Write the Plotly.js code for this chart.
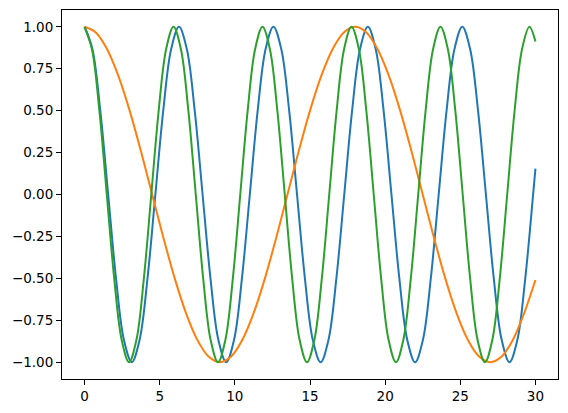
<!DOCTYPE html>
<html>
<head>
<meta charset="utf-8">
<script src="https://cdn.plot.ly/plotly-3.0.1.min.js"></script>
<style>
html, body { margin: 0; padding: 0; background: #fff; }
#chart { width: 568px; height: 413px; }
</style>
</head>
<body>
<div id="chart"></div>
<script>
// Blue series: points (peaks, troughs, crossings and between)
const blueX = [0, 0.524, 1.047, 1.571, 2.094, 2.618, 3.142, 3.665, 4.189, 4.712, 5.236, 5.760,
  6.283, 6.807, 7.330, 7.854, 8.378, 8.901, 9.425, 9.948, 10.472, 10.996, 11.519, 12.043,
  12.566, 13.090, 13.614, 14.137, 14.661, 15.184, 15.708, 16.232, 16.755, 17.279, 17.802, 18.326,
  18.850, 19.373, 19.897, 20.420, 20.944, 21.468, 21.991, 22.515, 23.038, 23.562, 24.086, 24.609,
  25.133, 25.656, 26.180, 26.704, 27.227, 27.751, 28.274, 28.798, 29.322, 29.845, 30.000];
const blueY = [1, 0.866, 0.5, 0, -0.5, -0.866, -1, -0.866, -0.5, 0, 0.5, 0.866,
  1, 0.866, 0.5, 0, -0.5, -0.866, -1, -0.866, -0.5, 0, 0.5, 0.866,
  1, 0.866, 0.5, 0, -0.5, -0.866, -1, -0.866, -0.5, 0, 0.5, 0.866,
  1, 0.866, 0.5, 0, -0.5, -0.866, -1, -0.866, -0.5, 0, 0.5, 0.866,
  1, 0.866, 0.5, 0, -0.5, -0.866, -1, -0.866, -0.5, 0, 0.154];

// Orange series
const orangeX = [0, 0.75, 1.5, 2.25, 3, 3.75, 4.5, 5.25, 6, 6.75, 7.5, 8.25, 9, 9.75, 10.5, 11.25,
  12, 12.75, 13.5, 14.25, 15, 15.75, 16.5, 17.25, 18, 18.75, 19.5, 20.25, 21, 21.75, 22.5, 23.25,
  24, 24.75, 25.5, 26.25, 27, 27.75, 28.5, 29.25, 30];
const orangeY = [1, 0.966, 0.866, 0.707, 0.5, 0.259, 0, -0.259, -0.5, -0.707, -0.866, -0.966, -1,
  -0.966, -0.866, -0.707, -0.5, -0.259, 0, 0.259, 0.5, 0.707, 0.866, 0.966, 1,
  0.966, 0.866, 0.707, 0.5, 0.259, 0, -0.259, -0.5, -0.707, -0.866, -0.966, -1,
  -0.966, -0.866, -0.707, -0.51];

// Green series
const greenX = [0, 0.493, 0.987, 1.480, 1.973, 2.467, 2.960, 3.453, 3.947, 4.440, 4.933, 5.427,
  5.920, 6.413, 6.907, 7.400, 7.893, 8.387, 8.880, 9.373, 9.867, 10.360, 10.853, 11.347,
  11.840, 12.333, 12.827, 13.320, 13.813, 14.307, 14.800, 15.293, 15.787, 16.280, 16.773, 17.267,
  17.760, 18.253, 18.747, 19.240, 19.733, 20.227, 20.720, 21.213, 21.707, 22.200, 22.693, 23.187,
  23.680, 24.173, 24.667, 25.160, 25.653, 26.147, 26.640, 27.133, 27.627, 28.120, 28.613, 29.107,
  29.600, 30.000];
const greenY = [1, 0.866, 0.5, 0, -0.5, -0.866, -1, -0.866, -0.5, 0, 0.5, 0.866,
  1, 0.866, 0.5, 0, -0.5, -0.866, -1, -0.866, -0.5, 0, 0.5, 0.866,
  1, 0.866, 0.5, 0, -0.5, -0.866, -1, -0.866, -0.5, 0, 0.5, 0.866,
  1, 0.866, 0.5, 0, -0.5, -0.866, -1, -0.866, -0.5, 0, 0.5, 0.866,
  1, 0.866, 0.5, 0, -0.5, -0.866, -1, -0.866, -0.5, 0, 0.5, 0.866,
  1, 0.912];

const xTicks = [0, 5, 10, 15, 20, 25, 30];
const yTicks = [-1.00, -0.75, -0.50, -0.25, 0.00, 0.25, 0.50, 0.75, 1.00];

const mk = (x, y, color) => ({
  x: x, y: y, type: 'scatter', mode: 'lines',
  line: { color: color, width: 2, shape: 'spline', smoothing: 1 },
  hoverinfo: 'skip', showlegend: false
});

const data = [
  mk(blueX, blueY, '#1f77b4'),
  mk(orangeX, orangeY, '#ff7f0e'),
  mk(greenX, greenY, '#2ca02c')
];

const axisCommon = {
  showgrid: false, zeroline: false,
  showline: true, mirror: true, linecolor: '#000', linewidth: 1,
  ticks: 'outside', ticklen: 5, tickwidth: 1, tickcolor: '#000',
  tickfont: { family: 'DejaVu Sans, sans-serif', size: 13.5, color: '#000' }
};

const layout = {
  width: 568, height: 413,
  margin: { l: 62, r: 10, t: 10, b: 34 },
  paper_bgcolor: '#fff', plot_bgcolor: '#fff',
  xaxis: Object.assign({}, axisCommon, {
    range: [-1.5, 31.5], tickmode: 'array', tickvals: xTicks,
    ticktext: xTicks.map(String)
  }),
  yaxis: Object.assign({}, axisCommon, {
    range: [-1.1, 1.1], tickmode: 'array', tickvals: yTicks,
    ticktext: yTicks.map(v => (v < 0 ? '\u2212' : '') + Math.abs(v).toFixed(2))
  })
};

Plotly.newPlot('chart', data, layout, { staticPlot: true, displayModeBar: false });
</script>
</body>
</html>
